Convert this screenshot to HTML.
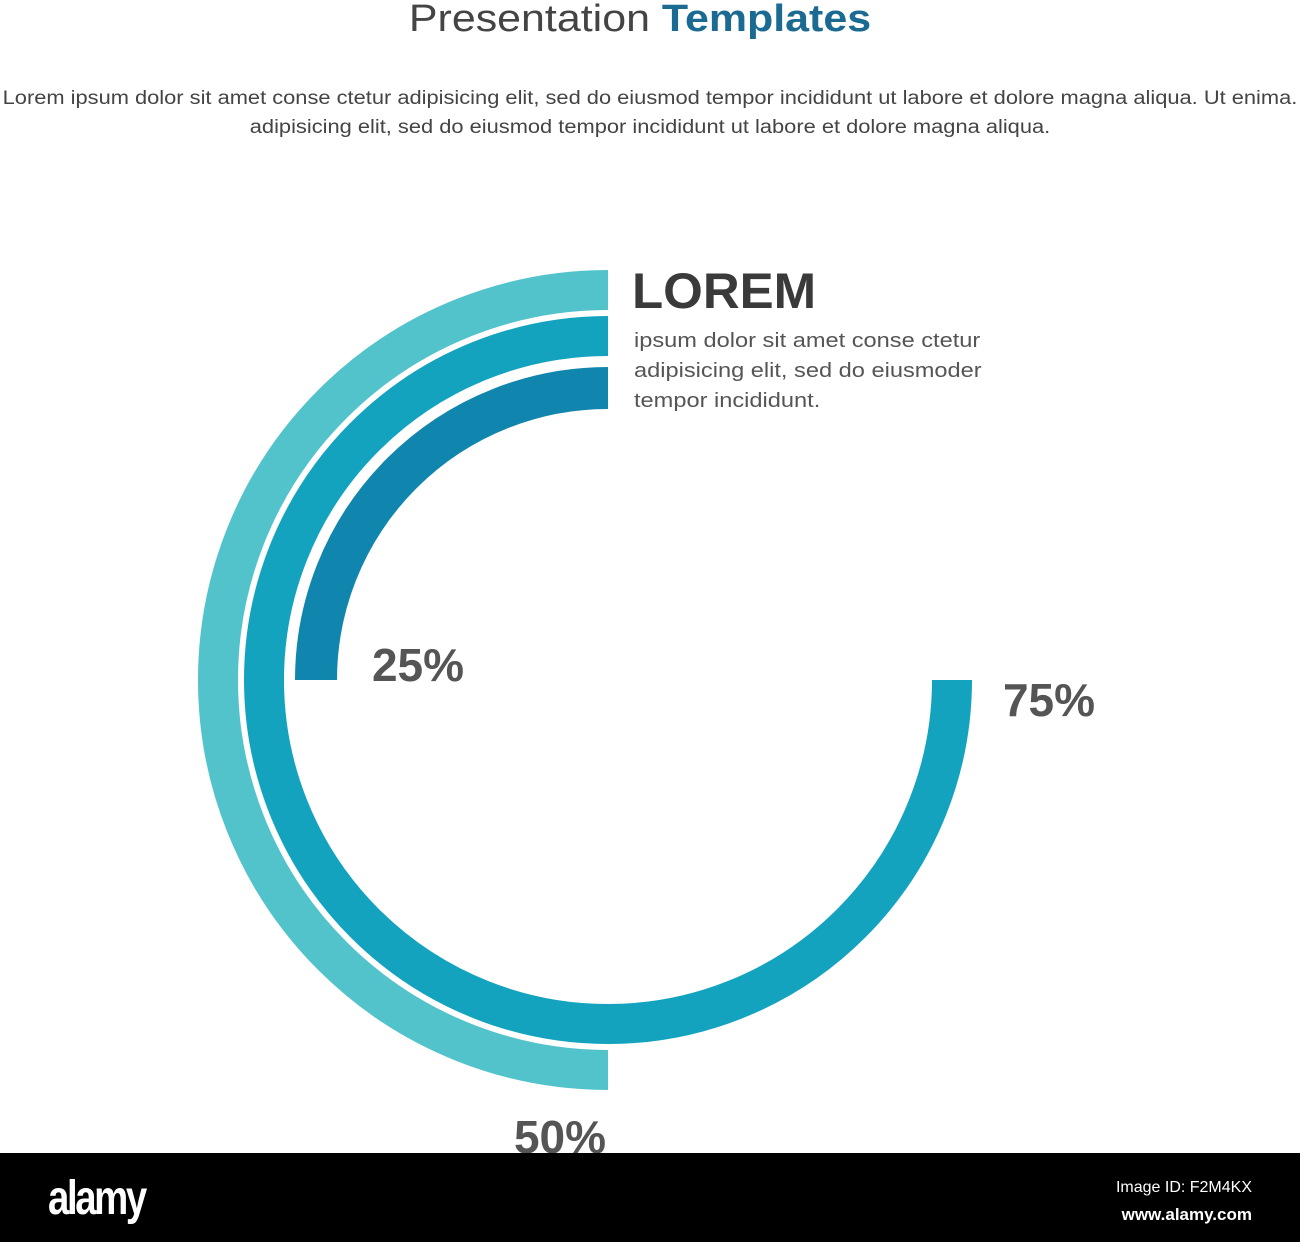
<!DOCTYPE html>
<html><head><meta charset="utf-8"><style>
html,body{margin:0;padding:0;width:1300px;height:1242px;overflow:hidden;background:#fff;font-family:"Liberation Sans",sans-serif;}
.abs{position:absolute;white-space:nowrap;}
</style></head><body>
<div style="position:relative;width:1300px;height:1242px;">
<div class="abs" style="left:0;width:1280px;text-align:center;top:-2px;font-size:38px;color:#444;transform:scaleX(1.13);transform-origin:640px 0;"><span>Presentation </span><b style="color:#1a6a92">Templates</b></div>
<div class="abs" style="left:0;width:1300px;text-align:center;top:84px;font-size:19px;line-height:29px;color:#444;transform:scaleX(1.15);transform-origin:650px 0;">Lorem ipsum dolor sit amet conse ctetur adipisicing elit, sed do eiusmod tempor incididunt ut labore et dolore magna aliqua. Ut enima.<br>adipisicing elit, sed do eiusmod tempor incididunt ut labore et dolore magna aliqua.</div>
<svg id="chart" width="1300" height="1242" style="position:absolute;left:0;top:0;"></svg>
<div class="abs" style="left:632px;top:262px;font-size:50px;font-weight:bold;color:#3a3a3a;transform:scaleX(1.02);transform-origin:left;">LOREM</div>
<div class="abs" style="left:634px;top:326px;font-size:20px;line-height:30px;color:#555;transform:scaleX(1.18);transform-origin:left;">ipsum dolor sit amet conse ctetur<br>adipisicing elit, sed do eiusmoder<br>tempor incididunt.</div>
<div style="position:absolute;left:0;top:1153px;width:1300px;height:89px;background:#000;">
<div class="abs" style="left:48px;top:18px;font-size:48px;font-weight:bold;color:#fff;letter-spacing:-3px;transform:scaleX(0.8);transform-origin:left;">alamy</div>
<div class="abs" style="right:48px;top:26px;font-size:16px;color:#fff;">Image ID: F2M4KX</div>
<div class="abs" style="right:48px;top:52px;font-size:17px;font-weight:bold;color:#fff;">www.alamy.com</div>
</div>
</div>
<script>
const seriesNames = ["outer","middle","inner"];
const seriesValues = [50, 75, 25];
const valueLabels = ["50%","75%","25%"];
const cx = 608, cy = 680;
const radii = [390, 344, 292];
const widths = [40, 40, 42];
const colors = ["#52c3cb","#14a3be","#1086ae"];
const labelPos = [[560,1153],[1049,716],[418,681]];
const svg = document.getElementById('chart');
const NS = "http://www.w3.org/2000/svg";
function pt(r,f){const a=(-90-360*f)*Math.PI/180;return [cx+r*Math.cos(a), cy+r*Math.sin(a)];}
seriesValues.forEach((v,i)=>{
  const f=Math.min(v/100,0.9999);
  const s=pt(radii[i],0), e=pt(radii[i],f);
  const p=document.createElementNS(NS,'path');
  p.setAttribute('d',`M${s[0]},${s[1]} A${radii[i]},${radii[i]} 0 ${f>0.5?1:0} 0 ${e[0]},${e[1]}`);
  p.setAttribute('fill','none');p.setAttribute('stroke',colors[i]);p.setAttribute('stroke-width',widths[i]);
  
  
  svg.appendChild(p);
  const t=document.createElementNS(NS,'text');
  t.setAttribute('x',labelPos[i][0]);t.setAttribute('y',labelPos[i][1]);
  t.setAttribute('text-anchor','middle');t.setAttribute('font-size','46');t.setAttribute('font-weight','bold');
  t.setAttribute('fill','#555');t.setAttribute('font-family','Liberation Sans, sans-serif');
  t.textContent=valueLabels[i];
  
  
  svg.appendChild(t);
});
</script>
</body></html>
